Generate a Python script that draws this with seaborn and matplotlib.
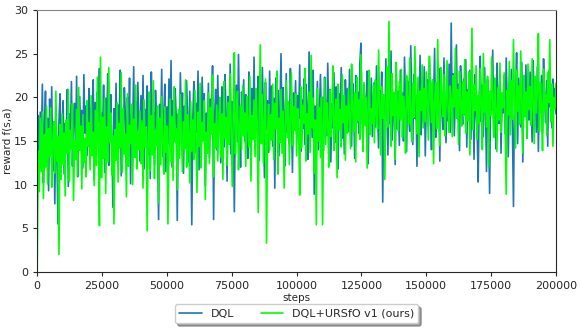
import numpy as np
import pandas as pd
import seaborn as sns
import matplotlib.pyplot as plt

# --- Data (one value every ~400 steps) ---
dql = [
    8.0, 17.9, 12.4, 18.3, 14.6, 21.5, 10.2, 16.8, 20.7, 13.1, 17.6, 9.3, 19.8, 14.0, 21.2, 11.6, 16.1, 7.8, 18.9, 13.7, 5.5, 17.3, 20.4, 12.8, 16.5,
    19.6, 11.2, 17.0, 14.3, 20.9, 9.8, 18.1, 15.4, 21.8, 12.1, 17.7, 19.3, 13.6, 22.4, 10.9, 16.6, 20.1, 14.8, 18.5, 11.9, 22.6, 15.9, 19.0, 13.3, 17.4,
    21.0, 12.6, 18.8, 16.0, 22.0, 10.5, 19.4, 14.1, 20.6, 17.2, 23.3, 13.0, 18.2, 15.7, 21.4, 11.4, 19.9, 16.4, 22.7, 12.2, 17.5, 20.3, 14.6, 7.4, 18.7,
    15.2, 21.6, 12.9, 19.1, 16.9, 23.1, 11.0, 18.4, 14.9, 21.1, 17.8, 12.4, 20.0, 15.5, 22.2, 10.1, 18.0, 16.3, 23.5, 13.8, 19.5, 14.4, 21.7, 17.1, 12.7,
    20.2, 15.0, 22.5, 11.8, 18.6, 16.7, 21.3, 13.4, 19.7, 10.7, 22.9, 15.8, 18.3, 12.3, 20.8, 17.3, 14.2, 6.0, 19.2, 16.1, 23.2, 13.2, 17.9, 21.5, 11.5,
    18.9, 14.7, 22.1, 16.2, 24.2, 12.0, 19.6, 15.3, 21.0, 17.7, 5.9, 18.1, 13.9, 22.8, 16.6, 20.5, 11.3, 19.0, 14.5, 21.9, 17.4, 12.6, 20.7, 15.1, 5.4,
    17.6, 21.8, 13.6, 19.3, 16.0, 23.0, 11.7, 18.7, 14.8, 22.3, 17.0, 20.4, 9.9, 18.2, 15.6, 21.6, 13.1, 19.8, 16.8, 23.6, 6.0, 17.8, 20.9, 14.0, 22.5,
    16.4, 19.9, 12.5, 21.2, 17.5, 14.3, 22.6, 18.0, 10.4, 20.1, 15.9, 23.8, 13.5, 19.5, 16.9, 6.9, 18.6, 21.4, 14.9, 24.9, 17.2, 12.0, 20.6, 16.2, 22.0,
    15.0, 20.3, 17.8, 13.0, 22.9, 18.4, 11.1, 21.0, 16.5, 24.6, 14.1, 19.2, 17.3, 22.4, 12.8, 20.0, 15.7, 23.4, 18.1, 10.8, 21.7, 16.3, 19.6, 13.7, 23.0,
    17.1, 21.3, 14.4, 19.9, 9.6, 22.2, 16.6, 20.8, 13.3, 18.9, 25.0, 15.2, 21.1, 17.9, 12.2, 22.7, 16.0, 19.4, 14.7, 23.3, 18.3, 11.4, 20.5, 16.8, 21.9,
    15.8, 20.2, 17.6, 23.7, 13.8, 19.7, 16.4, 22.1, 14.6, 21.5, 18.7, 12.9, 25.2, 17.0, 20.7, 15.4, 23.1, 8.9, 19.0, 16.2, 21.8, 14.0, 18.5, 22.6, 16.9,
    20.0, 13.9, 22.3, 18.2, 15.6, 23.9, 17.3, 20.9, 12.6, 19.3, 16.5, 22.8, 14.8, 21.2, 18.8, 11.8, 20.4, 17.4, 23.4, 15.3, 19.6, 13.5, 22.0, 17.7, 21.0,
    16.1, 23.2, 18.6, 14.4, 21.6, 19.2, 13.0, 22.5, 17.1, 20.6, 15.9, 24.0, 26.2, 18.0, 14.9, 21.4, 19.5, 16.7, 23.0, 12.4, 20.3, 17.9, 22.2, 15.5, 19.8,
    21.7, 16.6, 23.6, 18.4, 14.2, 20.8, 17.5, 22.9, 8.0, 19.4, 15.8, 24.4, 18.9, 13.4, 21.3, 17.0, 25.3, 15.1, 20.1, 18.5, 12.3, 22.4, 16.4, 20.7, 14.5,
    23.1, 17.8, 20.5, 15.0, 24.6, 19.1, 13.8, 21.9, 18.2, 16.1, 25.9, 19.7, 14.6, 22.6, 17.6, 20.2, 12.1, 21.5, 18.6, 24.8, 15.7, 20.9, 17.2, 23.5, 13.3,
    19.8, 22.0, 16.7, 24.1, 18.1, 14.0, 21.7, 19.4, 25.6, 15.4, 20.6, 17.9, 23.3, 12.7, 22.3, 18.7, 16.3, 24.5, 19.0, 14.8, 21.2, 17.3, 23.8, 16.0, 28.5,
    18.3, 22.7, 15.6, 20.4, 26.0, 17.7, 21.5, 13.9, 23.6, 19.2, 16.9, 22.1, 18.0, 24.3, 14.3, 20.9, 17.5, 23.1, 15.2, 21.8, 19.6, 12.9, 22.6, 18.4, 16.1,
    10.3, 20.3, 24.7, 17.2, 21.4, 15.5, 23.4, 19.3, 11.5, 22.0, 16.8, 9.0, 20.7, 18.5, 25.4, 16.2, 21.1, 14.1, 23.9, 19.9, 17.0, 22.8, 13.6, 20.0, 18.2,
    22.4, 15.8, 24.5, 19.0, 13.2, 21.6, 17.6, 23.2, 16.4, 7.5, 20.6, 18.8, 25.1, 14.7, 22.2, 19.5, 16.6, 24.0, 12.6, 21.0, 18.0, 23.7, 15.3, 20.4, 17.4,
    22.9, 19.1, 14.9, 24.2, 18.6, 21.3, 16.0, 23.5, 13.8, 20.8, 18.3, 22.5, 15.9, 24.4, 19.7, 17.1, 21.9, 14.4, 23.0, 18.9, 20.2, 16.5, 22.1, 19.4, 21.0, 18.1,
]

dql_ursfo = [
    0.0, 13.8, 9.2, 17.6, 11.5, 18.3, 8.4, 15.7, 12.0, 19.0, 10.1, 16.4, 13.2, 18.8, 9.7, 14.9, 17.2, 11.3, 20.7, 12.7, 15.5, 2.0, 16.9, 10.6, 18.1,
    12.3, 15.9, 8.7, 17.4, 13.6, 20.9, 10.4, 16.2, 14.1, 19.3, 8.2, 15.0, 12.9, 18.6, 11.0, 21.1, 13.9, 16.7, 9.5, 18.0, 12.5, 15.3, 10.9, 19.6, 14.4,
    17.1, 11.7, 20.2, 13.3, 16.0, 9.9, 18.5, 12.2, 22.3, 14.6, 5.3, 24.6, 10.8, 17.7, 13.0, 19.9, 9.0, 16.6, 12.6, 23.4, 14.8, 18.2, 11.1, 15.6, 5.5,
    16.3, 12.8, 19.4, 10.3, 17.0, 14.2, 22.8, 11.4, 18.7, 13.5, 15.8, 8.6, 20.4, 12.1, 16.8, 14.7, 19.2, 10.0, 17.5, 13.1, 21.4, 11.8, 16.1, 14.0, 18.4,
    12.4, 17.3, 9.6, 19.7, 14.3, 16.5, 4.7, 15.2, 20.6, 11.6, 17.9, 13.4, 21.9, 10.7, 16.2, 14.5, 19.0, 7.9, 17.6, 12.3, 20.1, 15.1, 11.2, 18.9, 13.7,
    16.7, 5.5, 14.0, 19.8, 12.6, 17.8, 10.5, 21.2, 14.9, 16.4, 9.4, 18.6, 13.0, 20.3, 15.4, 11.5, 17.2, 14.1, 22.0, 12.0, 18.0, 15.9, 10.2, 19.5, 13.8,
    17.4, 12.9, 20.8, 15.5, 9.1, 18.3, 14.4, 21.6, 11.9, 17.1, 15.0, 19.6, 8.3, 16.0, 13.6, 20.5, 12.4, 18.8, 15.7, 22.5, 10.9, 17.0, 14.2, 19.1, 12.7,
    16.9, 20.0, 13.1, 18.1, 10.6, 21.8, 15.3, 17.7, 12.2, 19.4, 14.6, 22.7, 16.3, 9.8, 18.5, 25.1, 13.5, 17.5, 20.7, 11.7, 16.1, 19.0, 14.0, 21.3, 15.6,
    18.2, 12.1, 20.1, 16.6, 14.3, 22.4, 10.4, 17.9, 15.2, 19.7, 13.2, 21.0, 16.8, 6.8, 18.6, 26.0, 14.7, 20.3, 12.5, 17.3, 22.1, 3.3, 16.0, 19.2, 13.9,
    18.0, 15.1, 21.5, 12.9, 19.3, 16.4, 23.0, 11.2, 17.6, 14.8, 20.9, 13.6, 18.4, 9.6, 16.7, 21.9, 15.4, 19.5, 12.3, 17.8, 22.8, 14.5, 18.9, 16.2, 20.4,
    13.3, 18.7, 16.0, 8.8, 21.2, 14.2, 19.1, 17.0, 23.3, 12.7, 18.1, 15.8, 20.6, 13.7, 24.8, 16.5, 19.9, 11.3, 17.4, 5.4, 21.0, 15.0, 18.8, 13.1, 20.0,
    5.4, 17.2, 22.1, 14.6, 19.4, 16.9, 12.0, 20.8, 15.5, 18.2, 23.6, 13.9, 17.7, 19.8, 10.8, 21.5, 16.3, 18.6, 14.3, 22.6, 17.1, 20.2, 12.8, 19.0, 15.9,
    21.1, 17.5, 14.1, 23.8, 18.9, 16.1, 20.5, 12.6, 22.3, 17.3, 19.7, 15.2, 24.9, 18.4, 13.8, 21.7, 16.8, 20.0, 11.9, 19.3, 23.1, 15.7, 18.7, 17.0, 21.4,
    14.8, 22.0, 18.1, 16.4, 25.4, 19.5, 13.4, 21.2, 17.6, 20.3, 10.6, 18.8, 23.5, 16.6, 28.7, 19.0, 14.4, 22.7, 17.9, 20.6, 12.9, 24.0, 18.3, 16.2, 21.8,
    17.4, 23.2, 15.4, 20.1, 18.6, 13.6, 22.5, 19.3, 16.9, 24.5, 18.0, 14.9, 21.6, 17.7, 25.8, 19.9, 15.8, 22.3, 13.2, 20.7, 18.5, 23.7, 16.5, 21.0, 17.2,
    22.9, 18.8, 15.1, 24.7, 20.4, 17.1, 22.0, 12.4, 19.6, 21.7, 16.4, 26.6, 18.2, 14.5, 23.4, 20.0, 17.8, 22.6, 15.6, 19.2, 24.2, 18.6, 16.0, 21.3, 19.8,
    15.5, 22.5, 18.9, 25.6, 17.6, 20.9, 14.6, 23.0, 19.4, 16.7, 21.8, 18.1, 24.3, 15.9, 20.6, 17.3, 22.9, 13.4, 19.7, 27.9, 16.3, 21.4, 18.5, 23.6, 15.2,
    20.2, 17.0, 23.3, 19.1, 14.0, 25.0, 18.3, 21.6, 16.6, 22.4, 12.1, 20.7, 17.9, 24.6, 19.5, 15.4, 22.2, 18.7, 13.8, 21.1, 17.4, 23.9, 16.0, 20.5, 18.8,
    22.8, 16.4, 8.9, 20.8, 18.0, 24.1, 15.7, 21.9, 17.5, 26.6, 19.8, 14.2, 23.1, 18.4, 21.3, 16.9, 25.3, 19.2, 13.6, 22.5, 17.8, 20.6, 15.3, 23.8, 18.6,
    21.2, 16.8, 24.4, 19.6, 14.7, 22.4, 18.2, 20.9, 27.3, 16.1, 21.7, 19.0, 13.9, 23.2, 18.5, 20.3, 15.6, 22.8, 19.4, 26.6, 17.2, 21.5, 14.4, 20.0, 18.7, 21.6,
]

labels = ["DQL", "DQL+URSfO v1 (ours)"]
colors = ["#1f77b4", "#00ff00"]
max_steps = 200000

# --- Plot ---
sns.set_style("ticks")
plt.rcParams["font.family"] = ["DejaVu Sans"]

fig = plt.figure(figsize=(5.81, 3.34), dpi=100)
ax = fig.add_axes([0.064, 0.186, 0.893, 0.784])

for series, label, color in zip([dql, dql_ursfo], labels, colors):
    df = pd.DataFrame({"steps": np.linspace(0, max_steps, len(series)), "reward": series})
    sns.lineplot(data=df, x="steps", y="reward", ax=ax, color=color, label=label, linewidth=1.2)

ax.set_xlim(0, max_steps)
ax.set_ylim(0, 30)
ax.set_xticks([0, 25000, 50000, 75000, 100000, 125000, 150000, 175000, 200000])
ax.set_yticks([0, 5, 10, 15, 20, 25, 30])
ax.tick_params(labelsize=8, length=3)
ax.set_xlabel("steps", fontsize=7.5, labelpad=1.5)
ax.set_ylabel("reward f(s,a)", fontsize=7.5, labelpad=1)
ax.spines["top"].set_color("#888888")

ax.legend(loc="upper center", bbox_to_anchor=(0.5, -0.103), ncol=2, fancybox=True,
          shadow=True, fontsize=8, handlelength=2.0, columnspacing=2.4)

plt.savefig("out.png", dpi=100)
